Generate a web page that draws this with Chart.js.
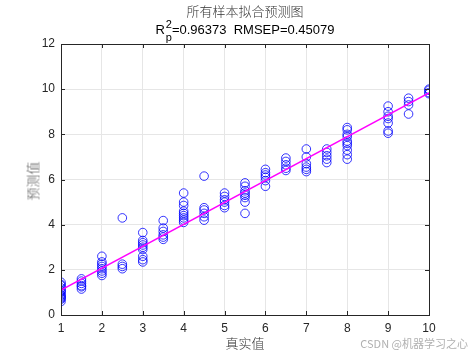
<!DOCTYPE html>
<html>
<head>
<meta charset="utf-8">
<script src="https://cdn.jsdelivr.net/npm/chart.js@4.4.0/dist/chart.umd.min.js"></script>
<style>
  html, body { margin: 0; padding: 0; background: #fff; }
  #wrap { position: relative; width: 474px; height: 355px; overflow: hidden; }
  canvas { position: absolute; left: 0; top: 0; }
  .t1 { position: absolute; left: 61px; width: 368px; top: 3px; text-align: center;
        font-family: "Noto Sans CJK SC", sans-serif; font-weight: 300; font-size: 13px; color: #333; line-height: 16px; }
  .t2 { position: absolute; left: 61px; width: 368px; top: 22px; text-align: center;
        font-family: "Liberation Sans", Arial, sans-serif; font-size: 13px; color: #000; line-height: 16px; white-space: pre; }
  .rr { display: inline-block; position: relative; padding-right: 7px; }
  .sup { position: absolute; right: 0; top: -6px; font-size: 11px; }
  .sub { position: absolute; right: 0; top: 7px; font-size: 11px; }
  .xl { position: absolute; left: 61px; width: 368px; top: 335px; text-align: center;
        font-family: "Noto Sans CJK SC", sans-serif; font-weight: 300; font-size: 13px; color: #333; line-height: 16px; }
  .yl { position: absolute; left: 32px; top: 181px; transform: translate(-50%, -50%) rotate(-90deg);
        font-family: "Noto Sans CJK SC", sans-serif; font-weight: 300; font-size: 13px; color: #555; white-space: nowrap; }
  .wm { position: absolute; right: 6px; top: 335px; font-family: "Noto Sans CJK SC", sans-serif;
        font-size: 11px; color: #b0b0b0; white-space: nowrap; }
</style>
</head>
<body>
<div id="wrap">
  <canvas id="c" width="474" height="355"></canvas>
  <div class="t1">所有样本拟合预测图</div>
  <div class="t2"><span class="rr">R<span class="sup">2</span><span class="sub">p</span></span>=0.96373  RMSEP=0.45079</div>
  <div class="xl">真实值</div>
  <div class="yl">预测值</div>
  <div class="wm">CSDN @机器学习之心</div>
</div>
<script>
// Data
const trueLevels = [1, 1.5, 2, 2.5, 3, 3.5, 4, 4.5, 5, 5.5, 6, 6.5, 7, 7.5, 8, 9, 9.5, 10];
const predAt1   = [0.6, 0.7, 0.75, 0.8, 0.85, 0.9, 1.0, 1.05, 1.1, 1.2, 1.3, 1.35, 1.45];
const predAt1_5 = [1.15, 1.25, 1.3, 1.4, 1.5, 1.6];
const predAt2   = [1.75, 1.85, 1.95, 2.05, 2.15, 2.25, 2.35, 2.6];
const predAt2_5 = [2.05, 2.15, 2.25, 4.3];
const predAt3   = [2.35, 2.45, 2.6, 2.9, 3.0, 3.1, 3.2, 3.3, 3.65];
const predAt3_5 = [3.35, 3.45, 3.55, 3.7, 3.85, 4.18];
const predAt4   = [4.1, 4.2, 4.3, 4.4, 4.5, 4.6, 4.85, 5.0, 5.4];
const predAt4_5 = [4.2, 4.35, 4.5, 4.65, 4.75, 6.15];
const predAt5   = [4.75, 4.85, 5.0, 5.1, 5.25, 5.4];
const predAt5_5 = [4.5, 5.0, 5.2, 5.3, 5.4, 5.5, 5.7, 5.85];
const predAt6   = [5.7, 5.95, 6.1, 6.2, 6.3, 6.45];
const predAt6_5 = [6.4, 6.5, 6.65, 6.8, 6.95];
const predAt7   = [6.35, 6.45, 6.55, 6.7, 7.0, 7.35];
const predAt7_5 = [6.75, 6.9, 7.05, 7.2, 7.35];
const predAt8   = [6.9, 7.1, 7.3, 7.5, 7.6, 7.7, 7.9, 8.0, 8.2, 8.3];
const predAt9   = [8.05, 8.15, 8.5, 8.7, 8.8, 9.0, 9.25];
const predAt9_5 = [8.9, 9.3, 9.45, 9.6];
const predAt10  = [9.8, 9.85, 9.95, 10.0];
const predGroups = [predAt1, predAt1_5, predAt2, predAt2_5, predAt3, predAt3_5, predAt4, predAt4_5,
  predAt5, predAt5_5, predAt6, predAt6_5, predAt7, predAt7_5, predAt8, predAt9, predAt9_5, predAt10];
const fitLineX = [1, 10];
const fitLineY = [1.1, 9.83];
const xTicks = [1, 2, 3, 4, 5, 6, 7, 8, 9, 10];
const yTicks = [0, 2, 4, 6, 8, 10, 12];

const scatterPts = [];
trueLevels.forEach((t, i) => predGroups[i].forEach(p => scatterPts.push({ x: t, y: p })));
const linePts = fitLineX.map((x, i) => ({ x: x, y: fitLineY[i] }));

const boxPlugin = {
  id: 'box',
  afterDraw(chart) {
    const { ctx, chartArea: a } = chart;
    ctx.save();
    ctx.strokeStyle = '#262626';
    ctx.lineWidth = 1;
    ctx.strokeRect(Math.round(a.left) + 0.5, Math.round(a.top) + 0.5,
      Math.round(a.right - a.left), Math.round(a.bottom - a.top));
    const xs = chart.scales.x, ys = chart.scales.y;
    ctx.beginPath();
    xTicks.forEach(v => {
      const px = Math.round(xs.getPixelForValue(v)) + 0.5;
      ctx.moveTo(px, a.bottom); ctx.lineTo(px, a.bottom - 4);
      ctx.moveTo(px, a.top); ctx.lineTo(px, a.top + 4);
    });
    yTicks.forEach(v => {
      const py = Math.round(ys.getPixelForValue(v)) + 0.5;
      ctx.moveTo(a.left, py); ctx.lineTo(a.left + 4, py);
      ctx.moveTo(a.right, py); ctx.lineTo(a.right - 4, py);
    });
    ctx.stroke();
    ctx.restore();
  }
};

new Chart(document.getElementById('c'), {
  type: 'scatter',
  data: {
    datasets: [
      {
        label: 'fit',
        type: 'line',
        data: linePts,
        borderColor: '#ff00ff',
        borderWidth: 1.5,
        pointRadius: 0,
        fill: false,
        order: 0
      },
      {
        label: 'samples',
        data: scatterPts,
        pointStyle: 'circle',
        pointRadius: 4.3,
        pointBorderWidth: 0.8,
        borderColor: '#0000ff',
        backgroundColor: 'rgba(0,0,0,0)',
        order: 1
      }
    ]
  },
  options: {
    responsive: false,
    animation: false,
    devicePixelRatio: 1,
    layout: { padding: { left: 0, top: 44, right: 45, bottom: 0 } },
    plugins: { legend: { display: false }, tooltip: { enabled: false }, title: { display: false } },
    scales: {
      x: {
        type: 'linear', min: 1, max: 10,
        afterBuildTicks: s => { s.ticks = xTicks.map(v => ({ value: v })); },
        afterFit: s => { s.height = 40; },
        grid: { color: '#e6e6e6', drawTicks: false, lineWidth: 1 },
        border: { display: false },
        ticks: { color: '#262626', padding: 6, font: { family: 'Liberation Sans, Arial, sans-serif', size: 12 }, maxRotation: 0 }
      },
      y: {
        type: 'linear', min: 0, max: 12,
        afterBuildTicks: s => { s.ticks = yTicks.map(v => ({ value: v })); },
        afterFit: s => { s.width = 61; },
        grid: { color: '#e6e6e6', drawTicks: false, lineWidth: 1 },
        border: { display: false },
        ticks: { color: '#262626', padding: 6, font: { family: 'Liberation Sans, Arial, sans-serif', size: 12 } }
      }
    }
  },
  plugins: [boxPlugin]
});
</script>
</body>
</html>
